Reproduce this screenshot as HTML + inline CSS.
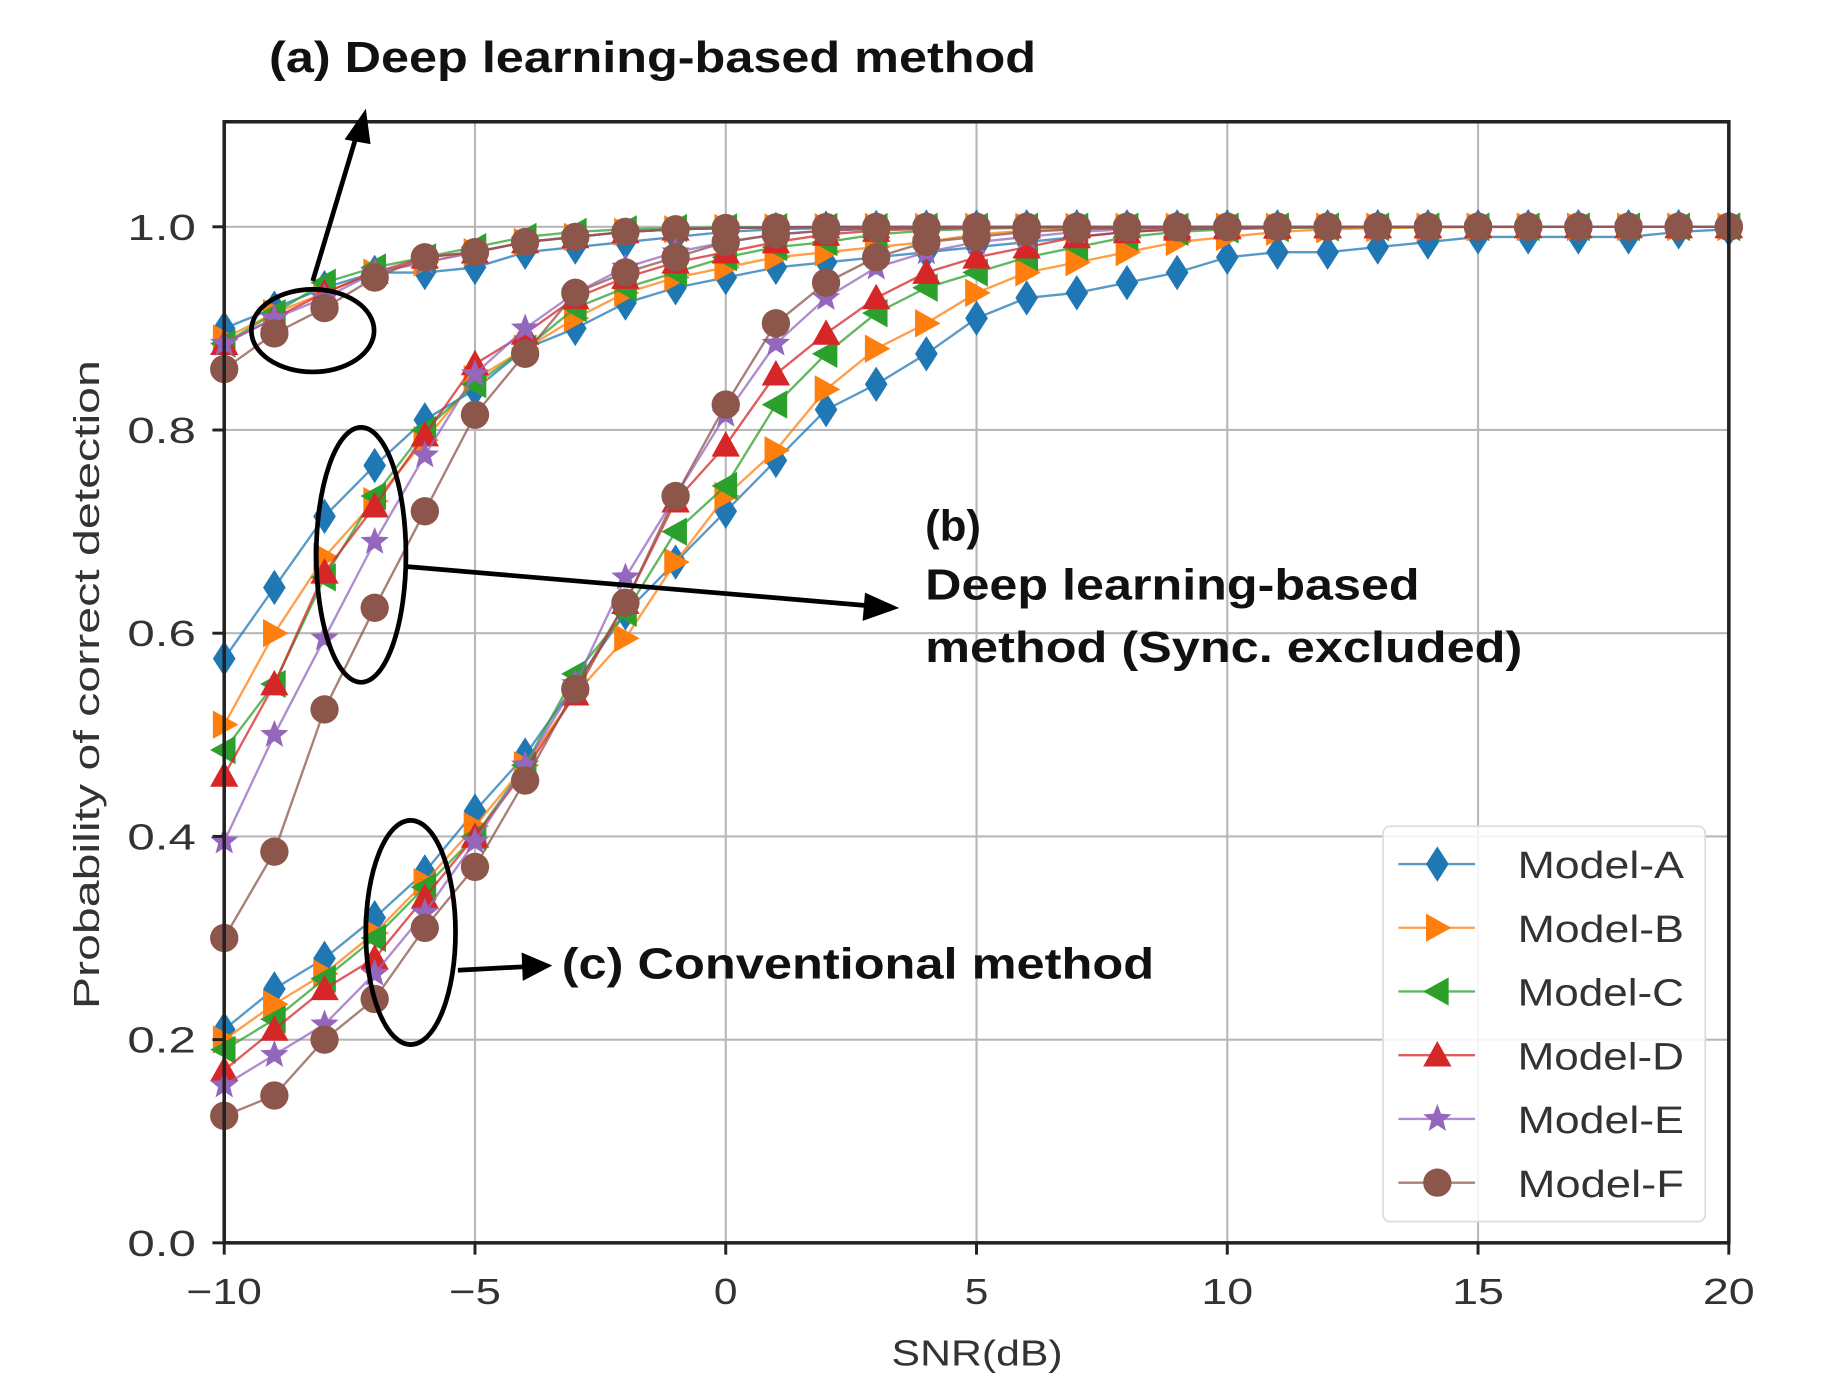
<!DOCTYPE html>
<html><head><meta charset="utf-8"><style>html,body{margin:0;padding:0;background:#fff;}svg{display:block}</style></head>
<body>
<svg id="s" width="1848" height="1400" viewBox="0 0 1566 1186" xmlns="http://www.w3.org/2000/svg" font-family="'Liberation Sans','DejaVu Sans',sans-serif">
<rect width="1566" height="1186" fill="#fff"/>
<g id="grid" stroke="#b8b8b8" stroke-width="1.8"></g>
<g id="data"></g>
<rect x="190" y="103" width="1275" height="950" fill="none" stroke="#222" stroke-width="3"/>
<g id="ticks" fill="#333" font-size="31"></g>
<text x="828" y="1157" font-size="31" fill="#333" text-anchor="middle" textLength="145" lengthAdjust="spacingAndGlyphs">SNR(dB)</text>
<text transform="translate(84,580) rotate(-90)" font-size="31" fill="#333" text-anchor="middle" textLength="550" lengthAdjust="spacingAndGlyphs">Probability of correct detection</text>
<g id="legend"></g>
<g font-weight="bold" font-size="37" fill="#111" lengthAdjust="spacingAndGlyphs">
<text x="228" y="61" textLength="650" lengthAdjust="spacingAndGlyphs">(a) Deep learning-based method</text>
<text x="784" y="458">(b)</text>
<text x="784" y="508" textLength="419" lengthAdjust="spacingAndGlyphs">Deep learning-based</text>
<text x="784" y="561" textLength="506" lengthAdjust="spacingAndGlyphs">method (Sync. excluded)</text>
<text x="476" y="829" textLength="502" lengthAdjust="spacingAndGlyphs">(c) Conventional method</text>
</g>
<g fill="none" stroke="#000" stroke-width="4">
<ellipse cx="265" cy="280" rx="52" ry="35"/>
<ellipse cx="306" cy="470" rx="38" ry="108"/>
<ellipse cx="348" cy="790" rx="38" ry="95"/>
<line x1="265" y1="238" x2="302" y2="115"/>
<line x1="345" y1="480" x2="735" y2="513"/>
<line x1="388" y1="822" x2="445" y2="819"/>
</g>
<g fill="#000">
<polygon points="310,92 292,118 314,122"/>
<polygon points="762,515 733,502 731,526"/>
<polygon points="468,818 442,807 443,831"/>
</g>
</svg>
<script>
var NS="http://www.w3.org/2000/svg";
function X(s){return 190+42.5*(s+10);}
function Y(v){return 1053-861*v;}
function el(t,a,p){var e=document.createElementNS(NS,t);for(var k in a)e.setAttribute(k,a[k]);p.appendChild(e);return e;}
var grid=document.getElementById('grid'),ticks=document.getElementById('ticks'),data=document.getElementById('data');
for(var s=-10;s<=20;s+=5){var x=X(s);if(s>-10&&s<20)el('line',{x1:x,y1:103,x2:x,y2:1053},grid);
 el('line',{x1:x,y1:1053,x2:x,y2:1063,stroke:'#222','stroke-width':2.5},ticks);
 var lab=(s<0?'\u2212'+(-s):''+s);
 var t=el('text',{x:x,y:1105,'text-anchor':'middle',textLength:(s<0?(s==-10?64:44):(lab.length==1?20:44)),lengthAdjust:'spacingAndGlyphs'},ticks);t.textContent=lab;}
for(var i=0;i<=5;i++){var v=i*0.2,y=Y(v);if(i>0)el('line',{x1:190,y1:y,x2:1465,y2:y},grid);
 el('line',{x1:180,y1:y,x2:190,y2:y,stroke:'#222','stroke-width':2.5},ticks);
 var t=el('text',{x:166,y:y+11,'text-anchor':'end',textLength:58,lengthAdjust:'spacingAndGlyphs'},ticks);t.textContent=v.toFixed(1);}
var cols=['#1f77b4','#ff7f0e','#2ca02c','#d62728','#9467bd','#8c564b'];
function fill(a){var r=a.slice();while(r.length<31){var l=r[r.length-1];r.push(Math.min(1,l+(1-l)*0.5));}return r;}
var A=[
[0.90,0.92,0.94,0.955,0.955,0.96,0.975,0.98,0.985,0.99,0.995],
[0.89,0.915,0.935,0.955,0.965,0.975,0.985,0.99,0.995],
[0.885,0.915,0.945,0.96,0.97,0.98,0.99,0.995],
[0.885,0.91,0.935,0.955,0.97,0.975,0.985,0.99,0.995],
[0.885,0.91,0.93,0.955,0.965,0.975,0.985,0.99,0.995],
[0.86,0.895,0.92,0.95,0.97,0.975,0.985,0.99,0.995]];
var B=[
[0.575,0.645,0.715,0.765,0.81,0.84,0.88,0.90,0.925,0.94,0.95,0.96,0.965,0.97,0.975,0.98,0.985,0.99],
[0.51,0.60,0.675,0.73,0.79,0.85,0.88,0.91,0.935,0.95,0.96,0.97,0.975,0.98,0.985],
[0.485,0.55,0.655,0.735,0.80,0.845,0.88,0.92,0.94,0.955,0.97,0.98,0.985],
[0.46,0.55,0.66,0.725,0.795,0.865,0.895,0.93,0.95,0.965,0.975,0.985],
[0.395,0.50,0.595,0.69,0.775,0.855,0.90,0.935,0.96,0.975,0.985],
[0.30,0.385,0.525,0.625,0.72,0.815,0.875,0.935,0.955,0.97,0.985]];
var C=[
[0.21,0.25,0.28,0.32,0.365,0.425,0.48,0.55,0.62,0.67,0.72,0.77,0.82,0.845,0.875,0.91,0.93,0.935,0.945,0.955,0.97,0.975,0.975,0.98,0.985,0.99,0.99,0.99,0.99,0.995],
[0.20,0.235,0.265,0.305,0.355,0.41,0.47,0.54,0.595,0.67,0.735,0.78,0.84,0.88,0.905,0.935,0.955,0.965,0.975,0.985,0.99],
[0.19,0.22,0.26,0.30,0.35,0.40,0.47,0.56,0.62,0.70,0.745,0.825,0.875,0.915,0.94,0.955,0.97,0.98,0.99],
[0.17,0.21,0.25,0.28,0.34,0.40,0.465,0.54,0.63,0.73,0.785,0.855,0.895,0.93,0.955,0.97,0.98,0.99],
[0.155,0.185,0.215,0.265,0.325,0.395,0.47,0.55,0.655,0.735,0.815,0.885,0.93,0.96,0.975,0.985,0.99],
[0.125,0.145,0.20,0.24,0.31,0.37,0.455,0.545,0.63,0.735,0.825,0.905,0.945,0.97,0.985,0.99,0.995]];
function marker(m,x,y,c,p,sc){sc=sc||1;var r=12*sc,a;
 if(m==0)a=el('polygon',{points:[x,y-r*1.25,x+r*0.8,y,x,y+r*1.25,x-r*0.8,y].join(' ')},p);
 else if(m==1)a=el('polygon',{points:[x+r,y,x-r*0.8,y-r,x-r*0.8,y+r].join(' ')},p);
 else if(m==2)a=el('polygon',{points:[x-r,y,x+r*0.8,y-r,x+r*0.8,y+r].join(' ')},p);
 else if(m==3)a=el('polygon',{points:[x,y-r,x+r,y+r*0.8,x-r,y+r*0.8].join(' ')},p);
 else if(m==4){var pts=[];for(var k=0;k<10;k++){var rr=k%2?r*0.45:r*1.05,an=-Math.PI/2+k*Math.PI/5;pts.push(x+rr*Math.cos(an),y+rr*Math.sin(an));}a=el('polygon',{points:pts.join(' ')},p);}
 else a=el('circle',{cx:x,cy:y,r:r},p);
 a.setAttribute('fill',c);}
[A,B,C].forEach(function(G){G.forEach(function(arr,m){var d=fill(arr),pts=[];
 for(var i=0;i<31;i++)pts.push(X(i-10)+','+Y(d[i]));
 el('polyline',{points:pts.join(' '),fill:'none',stroke:cols[m],'stroke-width':2,'stroke-opacity':0.75},data);
 for(var i=0;i<31;i++)marker(m,X(i-10),Y(d[i]),cols[m],data);});});
var lg=document.getElementById('legend');
el('rect',{x:1172,y:700,width:273,height:335,rx:6,fill:'#fff','fill-opacity':0.85,stroke:'#ddd','stroke-width':1.5},lg);
['A','B','C','D','E','F'].forEach(function(n,i){var y=732+i*54;
 el('line',{x1:1185,y1:y,x2:1250,y2:y,stroke:cols[i],'stroke-width':2,'stroke-opacity':0.75},lg);
 marker(i,1218,y,cols[i],lg);
 var t=el('text',{x:1286,y:y+12,'font-size':32,fill:'#333',textLength:141,lengthAdjust:'spacingAndGlyphs'},lg);t.textContent='Model-'+n;});
</script>
</body></html>
